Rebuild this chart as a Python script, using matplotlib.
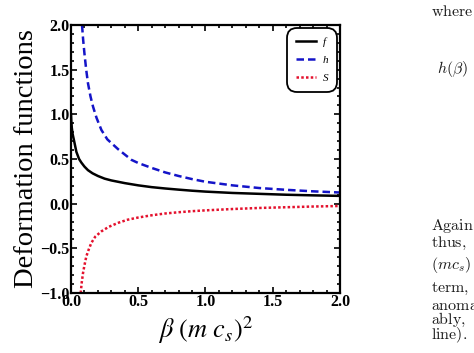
import matplotlib
matplotlib.use("Agg")
import matplotlib.pyplot as plt
from matplotlib.ticker import MultipleLocator

# values
f_x = [0.0, 0.002, 0.006, 0.012, 0.022, 0.04, 0.06, 0.077, 0.1, 0.126, 0.16,
       0.2, 0.25, 0.3, 0.35, 0.4, 0.5, 0.6, 0.7, 0.8, 0.9, 1.0, 1.2, 1.4,
       1.6, 1.8, 2.0]
f_y = [1.0, 0.93, 0.85, 0.78, 0.71, 0.58, 0.50, 0.46, 0.415, 0.375, 0.34,
       0.31, 0.28, 0.26, 0.245, 0.23, 0.205, 0.185, 0.17, 0.157, 0.145, 0.135,
       0.12, 0.11, 0.10, 0.093, 0.087]

h_x = [0.082, 0.09, 0.1, 0.113, 0.126, 0.145, 0.164, 0.19, 0.226, 0.27, 0.35,
       0.45, 0.5, 0.6, 0.7, 0.8, 0.9, 1.0, 1.2, 1.4, 1.6, 1.8, 2.0]
h_y = [2.0, 1.84, 1.68, 1.50, 1.35, 1.20, 1.085, 0.96, 0.825, 0.72, 0.61,
       0.49, 0.455, 0.40, 0.35, 0.31, 0.275, 0.245, 0.205, 0.175, 0.155,
       0.138, 0.125]

s_x = [0.072, 0.08, 0.089, 0.1, 0.114, 0.13, 0.151, 0.18, 0.226, 0.28, 0.35,
       0.42, 0.5, 0.6, 0.7, 0.8, 0.9, 1.0, 1.2, 1.4, 1.6, 1.8, 2.0]
s_y = [-1.0, -0.88, -0.78, -0.69, -0.59, -0.52, -0.44, -0.37, -0.31, -0.26,
       -0.215, -0.18, -0.155, -0.13, -0.11, -0.096, -0.084, -0.075, -0.06,
       -0.048, -0.04, -0.032, -0.026]

labels = ["f", "h", "S"]
x_ticks = [0.0, 0.5, 1.0, 1.5, 2.0]
y_ticks = [-1.0, -0.5, 0.0, 0.5, 1.0, 1.5, 2.0]

# bits of the paper's text to the right of the figure
side_text = [(431, 12, r"$\mathrm{where}$"),
             (437, 69, r"$h(\beta)$"),
             (431, 226, r"$\mathrm{Again}$"),
             (431, 243, r"$\mathrm{thus,}$"),
             (431, 265, r"$(mc_s)$"),
             (431, 289, r"$\mathrm{term,}$"),
             (431, 305, r"$\mathrm{anomalous}$"),
             (431, 320, r"$\mathrm{ably,}$"),
             (431, 335, r"$\mathrm{line).}$")]

W, H = 474, 353
fig = plt.figure(figsize=(W / 100, H / 100), dpi=100)
ax = fig.add_axes([71 / W, 1 - 293 / H, 269 / W, 268 / H])

ax.plot(f_x, f_y, color="black", lw=1.8, label=labels[0])
ax.plot(h_x, h_y, color="#1414c8", lw=1.8, dashes=(3.0, 1.6), label=labels[1])
ax.plot(s_x, s_y, color="#e4112d", lw=1.8, dashes=(1.0, 0.9), label=labels[2])

ax.set_xlim(0, 2)
ax.set_ylim(-1, 2)
ax.set_xticks(x_ticks)
ax.set_yticks(y_ticks)
ax.set_xticklabels([f"{v:.1f}" for v in x_ticks])
ax.set_yticklabels([f"{v:.1f}".replace("-", "\u2212") for v in y_ticks])
ax.xaxis.set_minor_locator(MultipleLocator(0.1))
ax.yaxis.set_minor_locator(MultipleLocator(0.1))
ax.tick_params(which="both", direction="in", top=True, right=True, width=1.2)
ax.tick_params(which="major", length=4.5, pad=1)
ax.tick_params(which="minor", length=2.2)
for lab in ax.get_xticklabels() + ax.get_yticklabels():
    lab.set_fontfamily("Liberation Serif")
    lab.set_fontweight("bold")
    lab.set_fontsize(11.5)
for sp in ax.spines.values():
    sp.set_linewidth(1.6)

ax.set_ylabel("Deformation functions", family="Liberation Serif", fontsize=20.5,
              labelpad=1)
ax.set_xlabel(r"$\beta\ (m\ c_s)^2$", math_fontfamily="stix", fontsize=19,
              labelpad=3)

leg = ax.legend(loc="upper right", bbox_to_anchor=(0.99, 0.988), borderaxespad=0,
                prop={"family": "Liberation Serif", "style": "italic", "size": 8},
                handlelength=1.8, handletextpad=0.6, labelspacing=0.75,
                borderpad=0.8, fancybox=True, framealpha=1)
leg.get_frame().set_edgecolor("black")
leg.get_frame().set_linewidth(1.3)
leg.get_frame().set_boxstyle("round,pad=0,rounding_size=0.9")

for px, py, s in side_text:
    fig.text(px / W, 1 - py / H, s, math_fontfamily="cm", fontsize=11.5,
             va="center", ha="left", color="#1a1a1a")

fig.savefig("out.png", dpi=100)
